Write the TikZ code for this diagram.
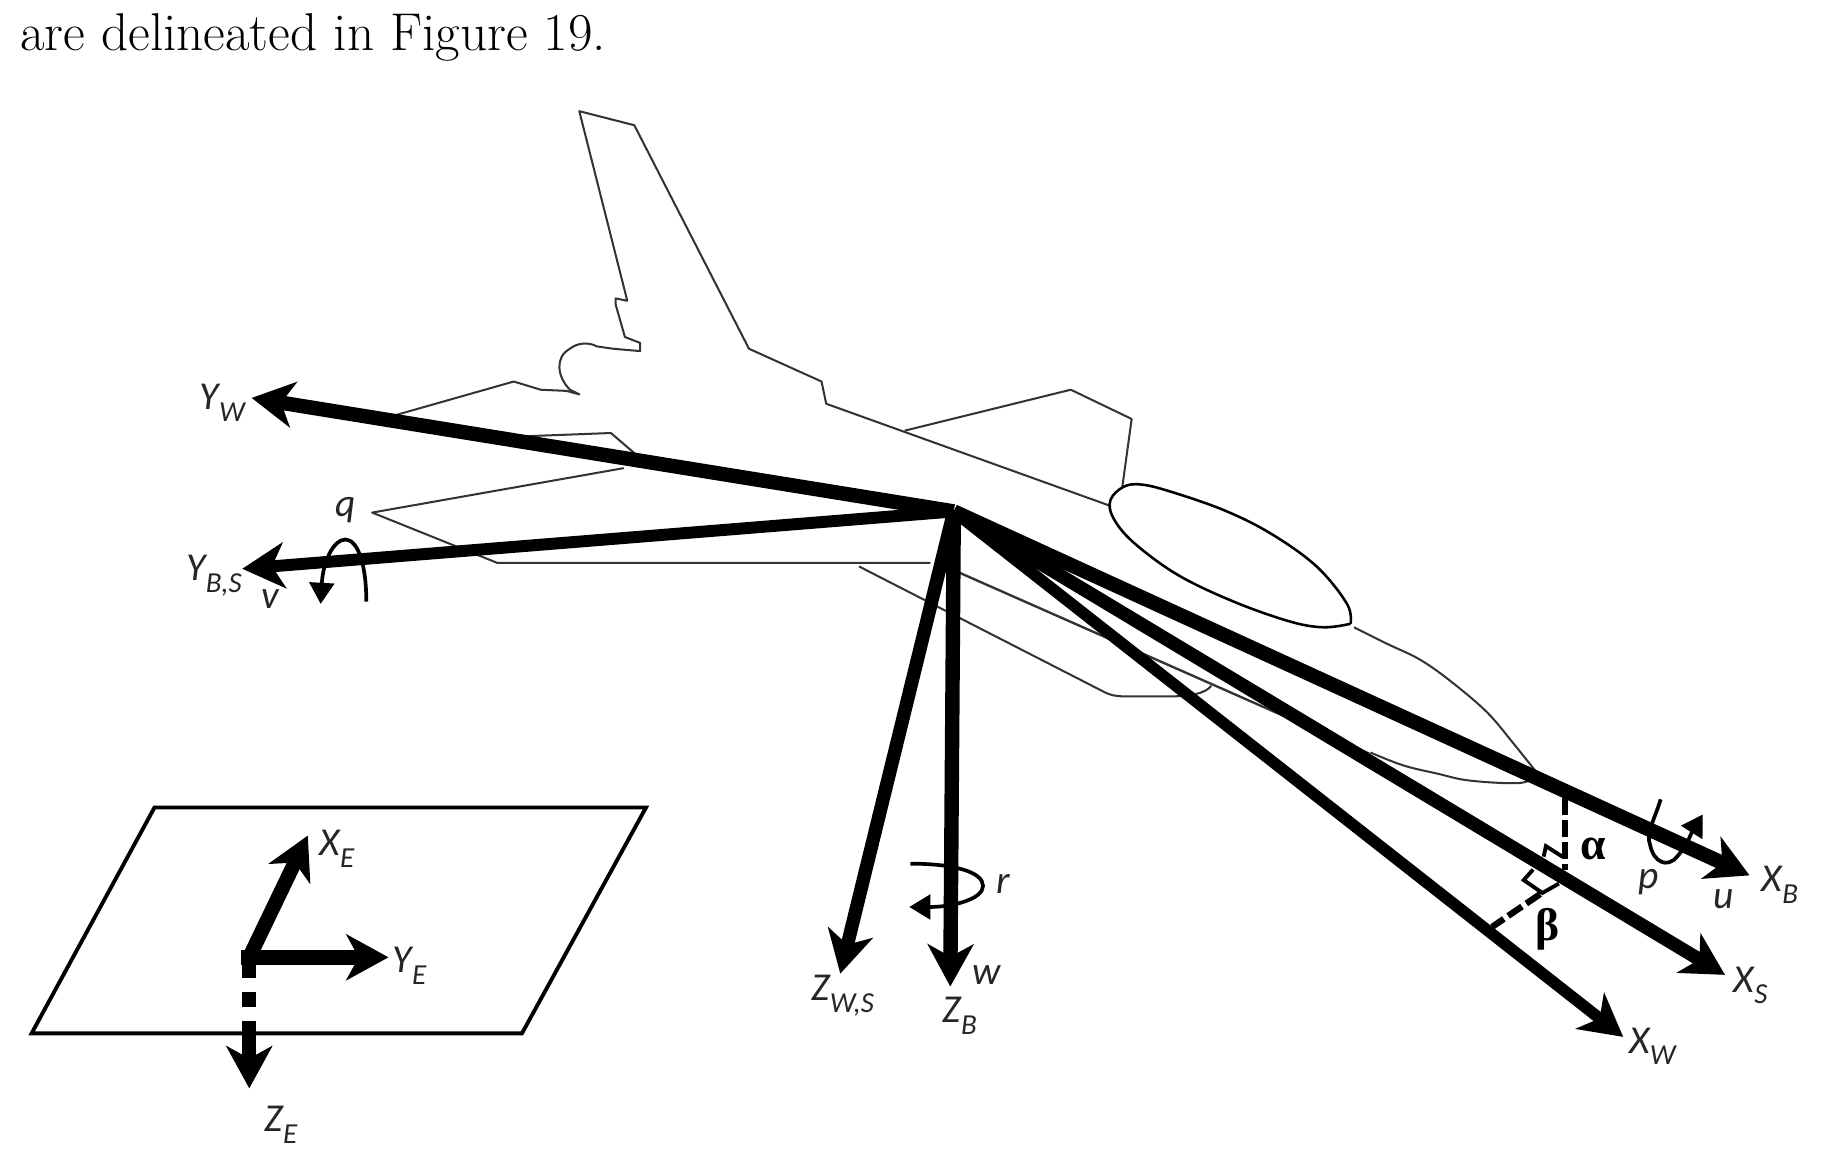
\documentclass[tikz,border=0pt]{standalone}
\usepackage{fontspec}
\usetikzlibrary{arrows.meta, calc}
\newfontfamily\axisfont{Carlito}
\newfontfamily\anglefont{Liberation Serif}
\newcommand{\axname}[2]{#1\raisebox{-0.3em}{\fontsize{16.5}{16.5}\selectfont #2}}
\tikzset{
  bodyline/.style={draw=black!80, line width=1.15pt, line join=round},
  axisarrow/.style={-{Stealth[length=24pt,width=26pt,inset=7pt]}, line width=8.2pt},
  spinarrow/.style={-{Triangle[length=12pt,width=14pt]}, line width=2.1pt},
  anglemark/.style={line width=3.6pt, dash pattern=on 9.5pt off 3pt},
  squaremark/.style={line width=2.2pt},
  axislabel/.style={font=\axisfont\itshape\fontsize{22.5}{24}\selectfont, text=black!85, inner sep=0pt},
  anglelabel/.style={font=\anglefont\bfseries\fontsize{26}{28}\selectfont, inner sep=0pt}
}

\begin{document}
\begin{tikzpicture}[x=0.023406cm, y=-0.023406cm]
  \useasboundingbox (0,0) rectangle (1568,1000);

  % Line of text above the figure
  \node[font=\fontsize{30.3}{36}\selectfont, anchor=base west, inner sep=0pt] (caption) at (17,43) {are delineated in Figure 19.};

  % Fin and fuselage
  \draw[bodyline] (337,355) -- (439,326) -- (462,333) -- (484,334) -- (495,337) -- (487,333)
    .. controls (476,322) and (474,305) .. (487,298)
    .. controls (493,293) and (503,292) .. (510,296) -- (524,298) -- (547,300) -- (547,293) -- (534,288) -- (526,260) -- (526,255) -- (536,257) -- (495,95) -- (542,107) -- (640,298) -- (702,326) -- (706,345) -- (948,432);

  % Far wing
  \draw[bodyline] (773,368) -- (915,333) -- (967,358) -- (959,416);

  % Tailplane and near wing
  \draw[bodyline] (443,373) -- (522,370) -- (543,388);
  \draw[bodyline] (533,400) -- (318,438) -- (425,481) -- (795,481);
  \draw[bodyline] (734,484) -- (941,590) .. controls (950,595) and (955,595) .. (963,595) -- (1002,595) .. controls (1015,595) and (1030,593) .. (1035,586);
  \draw[bodyline, line width=1.35pt] (819,489) -- (1170,644);

  % Canopy and nose
  \draw[bodyline, line width=1.45pt, draw=black] plot[smooth, tension=0.6] coordinates {(1154,533) (1151,516) (1125,484) (1086,456) (1046,436) (1000,420) (975,414) (960,416) (949,427) (951,442) (968,463) (1006,491) (1054,514) (1102,531) (1131,536) (1154,533)};
  \draw[bodyline] plot[smooth, tension=0.6] coordinates {(1157,536) (1185,550) (1214,564) (1242,584) (1271,609) (1293,635) (1313,660)};
  \draw[bodyline] plot[smooth, tension=0.6] coordinates {(1171,643) (1199,654) (1228,661) (1256,667) (1299,669) (1313,662)};

  % Body, stability and wind axes
  \coordinate (cg) at (815,437);
  \coordinate (tipYW) at (215,340);
  \coordinate (tipYBS) at (207,486);
  \coordinate (tipZWS) at (718,832);
  \coordinate (tipZB) at (812,843);
  \coordinate (tipXW) at (1387,886);
  \coordinate (tipXS) at (1474,833);
  \coordinate (tipXB) at (1495,748);
  \draw[axisarrow] (cg) -- (tipYW);
  \draw[axisarrow, line width=6.8pt] (cg) -- (tipYBS);
  \draw[axisarrow, line width=7.6pt] (cg) -- (tipZWS);
  \draw[axisarrow] (cg) -- (tipZB);
  \draw[axisarrow, line width=6.6pt] (cg) -- (tipXW);
  \draw[axisarrow, line width=7.6pt] (cg) -- (tipXS);
  \draw[axisarrow] (cg) -- (tipXB);

  % Rotation rates
  \draw[spinarrow] (313,514) .. controls (313,480) and (305,461) .. (295,461) .. controls (285,461) and (276,480) .. (274,516);
  \draw[spinarrow] (778,738) .. controls (815,738) and (840,745) .. (840,757) .. controls (840,768) and (815,775) .. (777,775);
  \draw[spinarrow] (1419,683) .. controls (1414,700) and (1406,712) .. (1410,722) .. controls (1413,737) and (1425,742) .. (1433,732) .. controls (1442,722) and (1445,712) .. (1455,696);

  % Angle of attack and sideslip
  \coordinate (alphatop) at (1337,682);
  \coordinate (alphaend) at (1337,743);
  \coordinate (betatop) at (1316,764);
  \coordinate (betaend) at (1275,792);
  \draw[anglemark] (alphatop) -- (alphaend);
  \draw[anglemark] (betatop) -- (betaend);
  \draw[squaremark] (1319,732) -- (1321,723) -- (1335,732);
  \draw[squaremark] (1310,743) -- (1302,752) -- (1318,763) -- (1332,755);

  % Earth frame
  \draw[line width=2.2pt] (132,690) -- (552,690) -- (446,883) -- (27,883) -- cycle;
  \coordinate (earth) at (213,815);
  \coordinate (tipXE) at (263,714);
  \coordinate (tipYE) at (332,818);
  \coordinate (tipZE) at (213,930);
  \draw[axisarrow] ($(earth)+(0,3)$) -- (tipXE);
  \draw[axisarrow] ($(earth)+(-7,3)$) -- (tipYE);
  \draw[axisarrow, dash pattern=on 13.5pt off 8.5pt on 8pt off 8pt on 60pt] (earth) -- (tipZE);

  % Axis labels
  \node[axislabel] (labYW) at (190,344) {\axname{Y}{W}};
  \node[axislabel] (labYBS) at (183,492) {\axname{Y}{B,S}};
  \node[axislabel] (labq) at (295,436) {q};
  \node[axislabel] (labv) at (231,512) {v};
  \node[axislabel] (labXE) at (288,725) {\axname{X}{E}};
  \node[axislabel] (labYE) at (350,825) {\axname{Y}{E}};
  \node[axislabel] (labZE) at (240,961) {\axname{Z}{E}};
  \node[axislabel] (labZWS) at (720,851) {\axname{Z}{W,S}};
  \node[axislabel] (labZB) at (820,868) {\axname{Z}{B}};
  \node[axislabel] (labw) at (843,833) {w};
  \node[axislabel] (labr) at (857,755) {r};
  \node[axislabel] (labp) at (1409,754) {p};
  \node[axislabel] (labu) at (1473,768) {u};
  \node[axislabel] (labXB) at (1521,756) {\axname{X}{B}};
  \node[axislabel] (labXS) at (1496,842) {\axname{X}{S}};
  \node[axislabel] (labXW) at (1412,894) {\axname{X}{W}};
  \node[anglelabel] (labalpha) at (1361,725) {α};
  \node[anglelabel] (labbeta) at (1322,794) {β};
\end{tikzpicture}
\end{document}
